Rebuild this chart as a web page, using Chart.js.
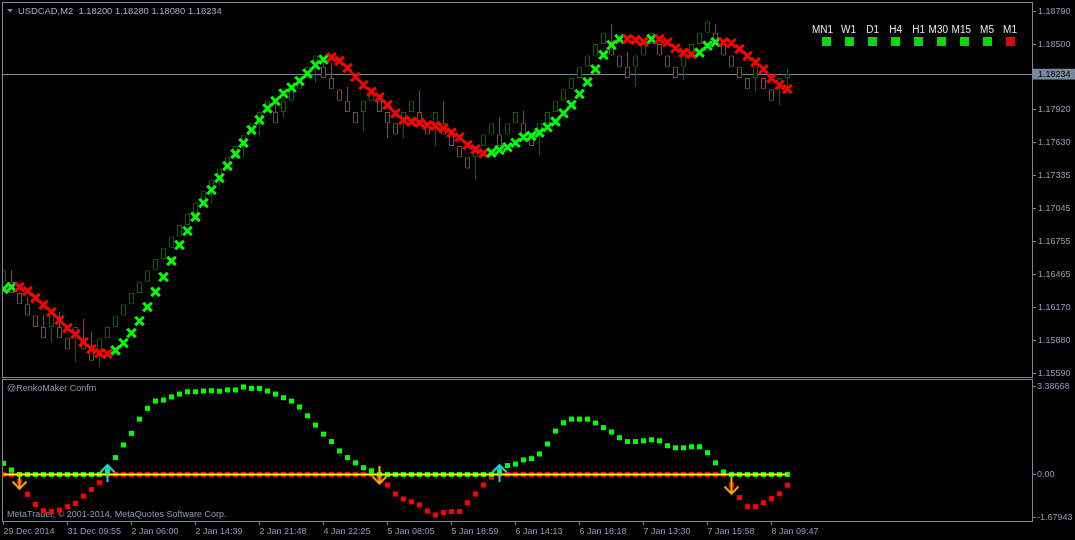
<!DOCTYPE html>
<html>
<head>
<meta charset="utf-8">
<script src="https://cdn.jsdelivr.net/npm/chart.js@4.4.1/dist/chart.umd.min.js"></script>
<style>
  html, body { margin: 0; padding: 0; background: #000; }
  #wrap { position: relative; width: 1075px; height: 540px; overflow: hidden; background: #000; }
  #priceCanvas { position: absolute; left: 0; top: 0; }
  #indCanvas { position: absolute; left: 0; top: 376px; }
</style>
</head>
<body>
<div id="wrap">
  <canvas id="priceCanvas" width="1075" height="392"></canvas>
  <canvas id="indCanvas" width="1075" height="164"></canvas>
</div>
<script>
"use strict";

// ---- values ----
const symbolName = "USDCAD,M2";
const indName = "@RenkoMaker Confm";
const copyright = "MetaTrader, \u00A9 2001-2014, MetaQuotes Software Corp.";

const timeLabels = ["29 Dec 2014", "31 Dec 09:55", "2 Jan 06:00", "2 Jan 14:39", "2 Jan 21:48",
  "4 Jan 22:25", "5 Jan 08:05", "5 Jan 18:59", "6 Jan 14:13", "6 Jan 18:18",
  "7 Jan 13:30", "7 Jan 15:58", "8 Jan 09:47"];
const barsPerLabel = 8;

const barOpen = [
  1.1640, 1.1640, 1.1630, 1.1620, 1.1610, 1.1600, 1.1600, 1.1600, 1.1590, 1.1590,
  1.1590, 1.1580, 1.1580, 1.1590, 1.1600, 1.1610, 1.1620, 1.1630, 1.1640, 1.1650,
  1.1660, 1.1670, 1.1680, 1.1690, 1.1700, 1.1710, 1.1720, 1.1730, 1.1740, 1.1750,
  1.1760, 1.1770, 1.1780, 1.1790, 1.1790, 1.1790, 1.1800, 1.1810, 1.1820, 1.1830,
  1.1830, 1.1820, 1.1810, 1.1800, 1.1790, 1.1790, 1.1800, 1.1800, 1.1790, 1.1780,
  1.1780, 1.1790, 1.1790, 1.1780, 1.1780, 1.1780, 1.1770, 1.1760, 1.1750, 1.1750,
  1.1760, 1.1770, 1.1770, 1.1770, 1.1780, 1.1780, 1.1770, 1.1770, 1.1780, 1.1790,
  1.1800, 1.1810, 1.1820, 1.1830, 1.1840, 1.1850, 1.1850, 1.1840, 1.1830, 1.1830,
  1.1840, 1.1850, 1.1850, 1.1840, 1.1830, 1.1830, 1.1840, 1.1850, 1.1860, 1.1860,
  1.1850, 1.1840, 1.1830, 1.1820, 1.1820, 1.1820, 1.1810, 1.1810, 1.18200
];
const barClose = [
  1.1650, 1.1630, 1.1620, 1.1610, 1.1600, 1.1590, 1.1610, 1.1590, 1.1580, 1.1600,
  1.1580, 1.1570, 1.1590, 1.1600, 1.1610, 1.1620, 1.1630, 1.1640, 1.1650, 1.1660,
  1.1670, 1.1680, 1.1690, 1.1700, 1.1710, 1.1720, 1.1730, 1.1740, 1.1750, 1.1760,
  1.1770, 1.1780, 1.1790, 1.1800, 1.1780, 1.1800, 1.1810, 1.1820, 1.1830, 1.1840,
  1.1820, 1.1810, 1.1800, 1.1790, 1.1780, 1.1800, 1.1810, 1.1790, 1.1780, 1.1770,
  1.1790, 1.1800, 1.1780, 1.1770, 1.1790, 1.1770, 1.1760, 1.1750, 1.1740, 1.1760,
  1.1770, 1.1780, 1.1760, 1.1780, 1.1790, 1.1770, 1.1760, 1.1780, 1.1790, 1.1800,
  1.1810, 1.1820, 1.1830, 1.1840, 1.1850, 1.1860, 1.1840, 1.1830, 1.1820, 1.1840,
  1.1850, 1.1860, 1.1840, 1.1830, 1.1820, 1.1840, 1.1850, 1.1860, 1.1870, 1.1850,
  1.1840, 1.1830, 1.1820, 1.1810, 1.1830, 1.1810, 1.1800, 1.1820, 1.18234
];
const barHigh = [
  1.1650, 1.1650, 1.1630, 1.1626, 1.1610, 1.1611, 1.1610, 1.1613, 1.1590, 1.1600,
  1.1607, 1.1596, 1.1590, 1.1600, 1.1610, 1.1620, 1.1630, 1.1640, 1.1650, 1.1660,
  1.1670, 1.1680, 1.1690, 1.1700, 1.1710, 1.1720, 1.1730, 1.1740, 1.1750, 1.1760,
  1.1770, 1.1780, 1.1790, 1.1800, 1.1798, 1.1800, 1.1810, 1.1820, 1.1830, 1.1840,
  1.1838, 1.1834, 1.1810, 1.1812, 1.1790, 1.1800, 1.1810, 1.1800, 1.1790, 1.1780,
  1.1790, 1.1800, 1.1809, 1.1780, 1.1790, 1.1799, 1.1770, 1.1760, 1.1750, 1.1760,
  1.1770, 1.1780, 1.1785, 1.1780, 1.1790, 1.1791, 1.1770, 1.1780, 1.1790, 1.1800,
  1.1810, 1.1820, 1.1830, 1.1840, 1.1850, 1.1860, 1.1868, 1.1840, 1.1843, 1.1840,
  1.1850, 1.1860, 1.1850, 1.1840, 1.1830, 1.1840, 1.1850, 1.1860, 1.1871, 1.1868,
  1.1850, 1.1840, 1.1830, 1.1820, 1.1830, 1.1820, 1.1810, 1.1820, 1.18280
];
const barLow = [
  1.1640, 1.1630, 1.1620, 1.1610, 1.1600, 1.1590, 1.1586, 1.1590, 1.1580, 1.1569,
  1.1580, 1.1570, 1.1564, 1.1590, 1.1600, 1.1610, 1.1620, 1.1630, 1.1640, 1.1650,
  1.1660, 1.1670, 1.1680, 1.1690, 1.1700, 1.1710, 1.1709, 1.1724, 1.1740, 1.1750,
  1.1750, 1.1770, 1.1768, 1.1790, 1.1780, 1.1785, 1.1800, 1.1810, 1.1820, 1.1816,
  1.1820, 1.1810, 1.1800, 1.1790, 1.1780, 1.1772, 1.1800, 1.1790, 1.1767, 1.1770,
  1.1767, 1.1790, 1.1780, 1.1770, 1.1760, 1.1770, 1.1760, 1.1750, 1.1740, 1.1730,
  1.1760, 1.1770, 1.1760, 1.1770, 1.1780, 1.1770, 1.1760, 1.1751, 1.1780, 1.1790,
  1.1800, 1.1810, 1.1820, 1.1830, 1.1840, 1.1850, 1.1840, 1.1830, 1.1820, 1.1812,
  1.1840, 1.1850, 1.1840, 1.1830, 1.1820, 1.1818, 1.1840, 1.1850, 1.1860, 1.1850,
  1.1840, 1.1830, 1.1820, 1.1810, 1.1807, 1.1810, 1.1800, 1.1796, 1.18080
];

// the cross line of the main window and its direction (1 = up, -1 = down)
const trendLine = [
  1.16335, 1.16353, 1.16353, 1.16317, 1.16256, 1.16194, 1.16132, 1.16061, 1.15990, 1.15937,
  1.15867, 1.15805, 1.15769, 1.15761, 1.15792, 1.15858, 1.15946, 1.16052, 1.16176, 1.16309,
  1.16441, 1.16583, 1.16724, 1.16848, 1.16972, 1.17095, 1.17210, 1.17316, 1.17422, 1.17529,
  1.17626, 1.17741, 1.17829, 1.17931, 1.17997, 1.18063, 1.18116, 1.18174, 1.18240, 1.18315,
  1.18364, 1.18382, 1.18351, 1.18289, 1.18209, 1.18138, 1.18079, 1.18030, 1.17962, 1.17888,
  1.17829, 1.17814, 1.17805, 1.17785, 1.17776, 1.17756, 1.17717, 1.17676, 1.17608, 1.17570,
  1.17535, 1.17540, 1.17564, 1.17588, 1.17628, 1.17676, 1.17688, 1.17717, 1.17765, 1.17814,
  1.17888, 1.17962, 1.18059, 1.18165, 1.18277, 1.18404, 1.18492, 1.18545, 1.18545, 1.18536,
  1.18521, 1.18545, 1.18545, 1.18516, 1.18463, 1.18424, 1.18410, 1.18424, 1.18486, 1.18516,
  1.18516, 1.18507, 1.18457, 1.18395, 1.18339, 1.18277, 1.18198, 1.18138, 1.18103
];
const trendDir = [
  1, 1, -1, -1, -1, -1, -1, -1, -1, -1,
  -1, -1, -1, -1, 1, 1, 1, 1, 1, 1,
  1, 1, 1, 1, 1, 1, 1, 1, 1, 1,
  1, 1, 1, 1, 1, 1, 1, 1, 1, 1,
  1, -1, -1, -1, -1, -1, -1, -1, -1, -1,
  -1, -1, -1, -1, -1, -1, -1, -1, -1, -1,
  -1, 1, 1, 1, 1, 1, 1, 1, 1, 1,
  1, 1, 1, 1, 1, 1, 1, 1, -1, -1,
  -1, 1, -1, -1, -1, -1, -1, 1, 1, 1,
  -1, -1, -1, -1, -1, -1, -1, -1, -1
];

// RenkoMaker Confm oscillator
const indValue = [
  0.43, 0.17, -0.28, -0.77, -1.16, -1.41, -1.44, -1.38, -1.25, -1.12,
  -0.84, -0.59, -0.32, 0.13, 0.65, 1.14, 1.59, 2.14, 2.56, 2.84,
  2.88, 3.00, 3.11, 3.20, 3.20, 3.23, 3.24, 3.22, 3.27, 3.27,
  3.38668, 3.33, 3.33, 3.23, 3.11, 2.97, 2.84, 2.61, 2.27, 1.91,
  1.56, 1.27, 0.91, 0.65, 0.45, 0.26, 0.14, -0.14, -0.41, -0.76,
  -0.95, -1.06, -1.18, -1.42, -1.57, -1.48, -1.44, -1.44, -1.10, -0.76,
  -0.41, -0.11, 0.13, 0.34, 0.40, 0.56, 0.61, 0.79, 1.18, 1.68,
  2.00, 2.14, 2.14, 2.14, 1.99, 1.81, 1.64, 1.42, 1.27, 1.27,
  1.30, 1.34, 1.30, 1.11, 1.03, 1.03, 1.07, 1.07, 0.84, 0.45,
  0.09, -0.41, -0.90, -1.25, -1.25, -1.10, -0.94, -0.75, -0.42
];
const upArrowBars = [13, 62];
const upArrowVals = [0.07, 0.07];
const downArrowBars = [2, 47, 91];
const downArrowVals = [-0.26, -0.06, -0.45];

const priceTicks = [1.18790, 1.18500, 1.18234, 1.17920, 1.17630, 1.17335, 1.17045,
  1.16755, 1.16465, 1.16170, 1.15880, 1.15590];
const priceMin = 1.15557, priceMax = 1.18863;
const indTicks = [3.38668, 0, -1.67943];
const indMin = -1.804, indMax = 3.655;

const tfLabels = ["MN1", "W1", "D1", "H4", "H1", "M30", "M15", "M5", "M1"];
const tfState = [1, 1, 1, 1, 1, 1, 1, 1, -1];

// ---- look ----
const FG = "#778899";
const TXT = "#8d9bb2";
const UP = "#00ff00";
const DN = "#ff0000";
const BULL = "#105a10";
const BEAR = "#6c5a14";
const FONT = "'Liberation Sans', Arial, sans-serif";
const xMin = -0.0625, xMax = 128.5625;

Chart.defaults.font.family = FONT;
Chart.defaults.font.size = 9;
Chart.defaults.color = TXT;

const last = barClose.length - 1;
const lastClose = barClose[last];

// fixed axis boxes, no extra room for the end labels
function fitRightAxis(s) {
  s.width = 43;
  s.paddingTop = 0;
  s.paddingBottom = 0;
}

const framePlugin = {
  id: "frame",
  afterDraw(chart) {
    const { ctx, chartArea: a } = chart;
    ctx.save();
    ctx.strokeStyle = FG;
    ctx.lineWidth = 1;
    ctx.strokeRect(a.left - 0.5, a.top - 0.5, a.right - a.left + 1, a.bottom - a.top + 1);
    ctx.restore();
  }
};

const lastPricePlugin = {
  id: "lastPrice",
  beforeDatasetsDraw(chart) {
    const { ctx, chartArea: a } = chart;
    const y = Math.round(chart.scales.y.getPixelForValue(lastClose)) + 0.5;
    ctx.save();
    ctx.strokeStyle = FG;
    ctx.lineWidth = 1;
    ctx.beginPath();
    ctx.moveTo(a.left, y);
    ctx.lineTo(a.right, y);
    ctx.stroke();
    ctx.restore();
  }
};

const headerPlugin = {
  id: "header",
  afterDraw(chart) {
    const ctx = chart.ctx;
    ctx.save();
    // window caption
    ctx.fillStyle = FG;
    ctx.beginPath();
    ctx.moveTo(7, 9); ctx.lineTo(13, 9); ctx.lineTo(10, 12.5);
    ctx.closePath();
    ctx.fill();
    ctx.fillStyle = "#a4b0c4";
    ctx.font = "9.4px " + FONT;
    ctx.textBaseline = "middle";
    const ohlc = [barOpen[last], barHigh[last], barLow[last], barClose[last]].map(v => v.toFixed(5)).join(" ");
    ctx.fillText(symbolName + "  " + ohlc, 18, 11);
    // timeframe panel
    ctx.font = "10px " + FONT;
    ctx.textAlign = "right";
    tfLabels.forEach((t, i) => {
      const left = 822 + 23 * i;
      ctx.fillStyle = "#e8e8e8";
      ctx.fillText(t, left + 11, 30);
      ctx.fillStyle = tfState[i] > 0 ? "#00dc00" : "#e60000";
      ctx.fillRect(left, 37, 9, 9);
    });
    ctx.restore();
  }
};

const indTextPlugin = {
  id: "indText",
  beforeDatasetsDraw(chart) {
    const ctx = chart.ctx;
    ctx.save();
    ctx.fillStyle = TXT;
    ctx.font = "9px " + FONT;
    ctx.textBaseline = "middle";
    ctx.fillText(indName, 7, 13);
    ctx.fillText(copyright, 7, 138.5);
    ctx.restore();
  }
};

// ---- main price window ----
new Chart(document.getElementById("priceCanvas"), {
  type: "line",
  data: {
    datasets: [
      {
        type: "line",
        data: trendLine.map((v, i) => ({ x: i, y: v })),
        showLine: false,
        pointStyle: "crossRot",
        pointRadius: 6,
        pointBorderWidth: 3,
        pointBorderColor: ctx => trendDir[ctx.dataIndex] > 0 ? UP : DN,
        pointBackgroundColor: ctx => trendDir[ctx.dataIndex] > 0 ? UP : DN,
        clip: 0,
        order: 0
      },
      {
        type: "bar",
        data: barOpen.map((o, i) => ({ x: i, y: [o, barClose[i]] })),
        barThickness: 5,
        grouped: false,
        backgroundColor: "#000",
        borderColor: ctx => barClose[ctx.dataIndex] >= barOpen[ctx.dataIndex] ? BULL : BEAR,
        borderWidth: 1,
        borderSkipped: false,
        inflateAmount: 0,
        clip: 0,
        order: 1
      },
      {
        type: "bar",
        data: barLow.map((l, i) => ({ x: i, y: [l, barHigh[i]] })),
        barThickness: 1,
        grouped: false,
        backgroundColor: ctx => barClose[ctx.dataIndex] >= barOpen[ctx.dataIndex] ? BULL : BEAR,
        borderWidth: 0,
        inflateAmount: 0,
        clip: 0,
        order: 2
      }
    ]
  },
  options: {
    responsive: false,
    animation: false,
    events: [],
    layout: { autoPadding: false, padding: { left: 3, top: 3, right: 0, bottom: 15 } },
    plugins: { legend: { display: false }, tooltip: { enabled: false } },
    scales: {
      x: { type: "linear", min: xMin, max: xMax, display: false, offset: false, grid: { offset: false } },
      y: {
        position: "right",
        min: priceMin,
        max: priceMax,
        afterFit: fitRightAxis,
        afterBuildTicks: s => { s.ticks = priceTicks.map(v => ({ value: v })); },
        border: { display: false },
        grid: {
          drawOnChartArea: false,
          tickLength: 4,
          color: ctx => (ctx.tick && ctx.tick.value === lastClose) ? "rgba(0,0,0,0)" : FG
        },
        ticks: {
          autoSkip: false,
          padding: 2,
          callback: v => v.toFixed(5),
          color: ctx => (ctx.tick && ctx.tick.value === lastClose) ? "#000" : TXT,
          showLabelBackdrop: ctx => !!(ctx.tick && ctx.tick.value === lastClose),
          backdropColor: FG,
          backdropPadding: { left: 5, right: 12, top: 0, bottom: 0 }
        }
      }
    }
  },
  plugins: [lastPricePlugin, framePlugin, headerPlugin]
});

// ---- indicator window ----
function arrowImage(up, color) {
  const c = document.createElement("canvas");
  c.width = 17; c.height = 19;
  const g = c.getContext("2d");
  g.strokeStyle = color;
  g.lineWidth = 2;
  g.beginPath();
  if (up) {
    g.moveTo(1.5, 9); g.lineTo(8.5, 2); g.lineTo(15.5, 9);
    g.moveTo(8.5, 2); g.lineTo(8.5, 19);
  } else {
    g.moveTo(1.5, 10); g.lineTo(8.5, 17); g.lineTo(15.5, 10);
    g.moveTo(8.5, 0); g.lineTo(8.5, 17);
  }
  g.stroke();
  return c;
}
const upArrow = arrowImage(true, "#20d8ec");
const downArrow = arrowImage(false, "#ffb000");

new Chart(document.getElementById("indCanvas"), {
  type: "line",
  data: {
    datasets: [
      {
        data: upArrowBars.map((b, i) => ({ x: b, y: upArrowVals[i] })),
        showLine: false, pointStyle: upArrow, pointRadius: 8, clip: 0, order: 0
      },
      {
        data: downArrowBars.map((b, i) => ({ x: b, y: downArrowVals[i] })),
        showLine: false, pointStyle: downArrow, pointRadius: 8, clip: 0, order: 0
      },
      {
        data: [{ x: 0, y: 0 }, { x: last, y: 0 }],
        borderColor: "#ffff00", borderWidth: 2, pointRadius: 0, clip: 0, order: 1
      },
      {
        data: indValue.map((v, i) => ({ x: i, y: v > 0 ? v : 0 })),
        showLine: false, pointStyle: "rect", pointRadius: 3.54, pointBorderWidth: 0,
        pointBackgroundColor: UP, clip: 0, order: 2
      },
      {
        data: indValue.map((v, i) => ({ x: i, y: v < 0 ? v : 0 })),
        showLine: false, pointStyle: "rect", pointRadius: 3.54, pointBorderWidth: 0,
        pointBackgroundColor: DN, clip: 0, order: 3
      }
    ]
  },
  options: {
    responsive: false,
    animation: false,
    events: [],
    layout: { autoPadding: false, padding: { left: 3, top: 4, right: 0, bottom: 0 } },
    plugins: { legend: { display: false }, tooltip: { enabled: false } },
    scales: {
      x: {
        type: "linear", min: xMin, max: xMax, offset: false,
        afterFit: s => { s.height = 19; s.paddingLeft = 0; s.paddingRight = 0; },
        afterBuildTicks: s => { s.ticks = timeLabels.map((_, i) => ({ value: i * barsPerLabel })); },
        border: { display: false },
        grid: { drawOnChartArea: false, tickLength: 4, color: FG, offset: false },
        ticks: {
          autoSkip: false, maxRotation: 0, align: "start", padding: 1,
          callback: (v, i) => timeLabels[i]
        }
      },
      y: {
        position: "right",
        min: indMin,
        max: indMax,
        afterFit: fitRightAxis,
        afterBuildTicks: s => { s.ticks = indTicks.map(v => ({ value: v })); },
        border: { display: false },
        grid: { drawOnChartArea: false, tickLength: 4, color: FG },
        ticks: { autoSkip: false, padding: 1, callback: v => v === 0 ? "0.00" : v.toFixed(5) }
      }
    }
  },
  plugins: [indTextPlugin, framePlugin]
});
</script>
</body>
</html>
